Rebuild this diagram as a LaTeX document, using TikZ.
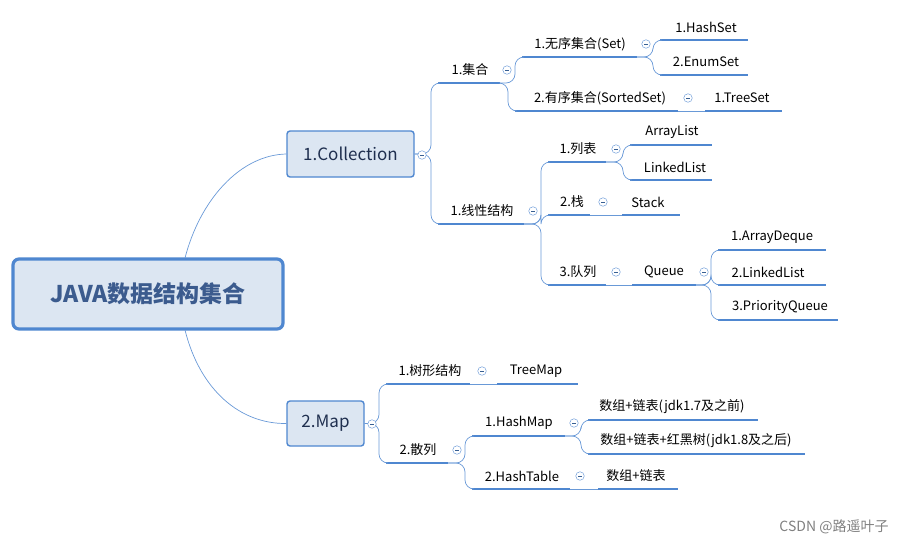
\documentclass[tikz,border=0pt]{standalone}
\usepackage{fontspec}
\setmainfont{Noto Sans CJK SC}
\definecolor{lc}{HTML}{4F87D0}
\definecolor{bf}{HTML}{DCE6F2}
\definecolor{rt}{HTML}{3B5B8E}
\definecolor{bt}{HTML}{1F2F4F}
\begin{document}
\begin{tikzpicture}[x=1pt,y=-1pt,
  ln/.style={draw=lc, line width=2pt},
  conn/.style={draw=lc!85, line width=0.7pt, rounded corners=9pt},
  lbl/.style={font=\fontsize{13}{15}\selectfont, text=black, inner sep=0pt},
  col/.style={circle, draw=lc!80, fill=white, inner sep=0pt, minimum size=8.5pt, line width=0.5pt, path picture={\draw[lc!70!black,line width=0.6pt] ([xshift=-2pt]path picture bounding box.center) -- ([xshift=2pt]path picture bounding box.center);}},
  bx/.style={draw=lc, fill=bf, rounded corners=3pt, line width=1.4pt, text=bt, inner sep=0pt}]
\useasboundingbox (0,0) rectangle (918,546);
\newcommand\leaf[6]{\node[lbl] (#1) at (#2,#3) {#6}; \draw[ln] (#4,#3+13) -- (#5,#3+13); \coordinate (#1s) at (#4,#3+13); \coordinate (#1e) at (#5,#3+13);}
\newcommand\cc[3]{\node[col] (#1) at (#2,#3) {};}
\newcommand\lk[2]{\draw[conn] (#1) -| ([xshift=-7pt]#2) -- (#2);}
% root
\node[bx, line width=3.2pt, rounded corners=6pt, minimum width=270pt, minimum height=70pt, font=\fontsize{23}{27}\selectfont\bfseries, text=rt] (root) at (148,294) {JAVA数据结构集合};
\node[bx, minimum width=127pt, minimum height=46pt, font=\fontsize{17}{20}\selectfont] (coll) at (350.5,154) {1.Collection};
\node[bx, minimum width=77pt, minimum height=45pt, font=\fontsize{17}{20}\selectfont] (map) at (325.5,423.5) {2.Map};
\draw[conn] (185,258) .. controls (200,200) and (240,155) .. (coll.west);
\draw[conn] (185,330) .. controls (200,390) and (240,424) .. (map.west);
% collection
\leaf{set}{470}{70}{438}{500}{1.集合}
\leaf{uset}{580}{44}{522}{637}{1.无序集合(Set)}
\leaf{hs}{706}{27}{660}{748}{1.HashSet}
\leaf{es}{706}{62}{660}{748}{2.EnumSet}
\leaf{oset}{600}{98}{515}{678}{2.有序集合(SortedSet)}
\leaf{ts}{742}{98}{705}{782}{1.TreeSet}
\leaf{lin}{482}{211}{438}{524}{1.线性结构}
\leaf{lst}{578}{149}{548}{606}{1.列表}
\leaf{al}{672}{132}{630}{712}{ArrayList}
\leaf{ll}{675}{167}{630}{712}{LinkedList}
\leaf{stk}{572}{202}{548}{590}{2.栈}
\leaf{stack}{648}{202}{622}{680}{Stack}
\leaf{que}{578}{272}{548}{606}{3.队列}
\leaf{queue}{664}{272}{632}{696}{Queue}
\leaf{ad}{772}{237}{718}{826}{1.ArrayDeque}
\leaf{ll2}{768}{272}{718}{826}{2.LinkedList}
\leaf{pq}{780}{307}{718}{838}{3.PriorityQueue}
% map
\leaf{tree}{430}{371}{386}{470}{1.树形结构}
\leaf{tm}{536}{371}{497}{578}{TreeMap}
\leaf{hash}{418}{450}{386}{448}{2.散列}
\leaf{hm}{519}{423}{472}{565}{1.HashMap}
\leaf{a1}{672}{407}{588}{758}{数组+链表(jdk1.7及之前)}
\leaf{a2}{696}{441}{588}{805}{数组+链表+红黑树(jdk1.8及之后)}
\leaf{ht}{522}{476}{472}{570}{2.HashTable}
\leaf{a3}{636}{476}{598}{678}{数组+链表}
% links
\lk{coll.east}{sets} \lk{coll.east}{lins}
\lk{sete}{usets} \lk{sete}{osets}
\lk{usete}{hss} \lk{usete}{ess}
\draw[conn] (osete) -- (tss);
\lk{line}{lsts} \lk{line}{stks} \lk{line}{ques}
\lk{lste}{als} \lk{lste}{lls}
\draw[conn] (stke) -- (stacks);
\draw[conn] (quee) -- (queues);
\lk{queuee}{ads} \lk{queuee}{ll2s} \lk{queuee}{pqs}
\lk{map.east}{trees} \lk{map.east}{hashs}
\draw[conn] (treee) -- (tms);
\lk{hashe}{hms} \lk{hashe}{hts}
\lk{hme}{a1s} \lk{hme}{a2s}
\draw[conn] (hte) -- (a3s);
% collapse markers
\cc{ccoll}{422}{155} \cc{cmap}{372}{424}
\cc{cset}{507}{70} \cc{cuset}{646}{44} \cc{coset}{688}{98}
\cc{clin}{533}{211} \cc{clst}{616}{149} \cc{cstk}{603}{202}
\cc{cque}{616}{272} \cc{cqueue}{704}{272}
\cc{ctree}{482}{371} \cc{chash}{457}{450} \cc{chm}{574}{423} \cc{cht}{580}{476}
\node[font=\fontsize{14}{16}\selectfont, text=gray] (wm) at (834,527) {CSDN @路遥叶子};
\end{tikzpicture}
\end{document}
